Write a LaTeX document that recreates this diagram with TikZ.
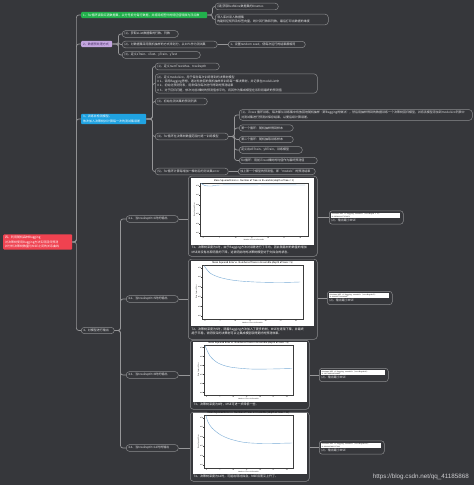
\documentclass[tikz,border=0pt]{standalone}
\usepackage{fontspec}
\setmainfont{Noto Sans CJK SC}
\newfontfamily\wmfont{Liberation Sans}
\usetikzlibrary{calc}

\definecolor{bgcol}{RGB}{54,55,59}
\definecolor{linecol}{RGB}{150,150,152}
\definecolor{boxcol}{RGB}{140,140,143}
\definecolor{txtcol}{RGB}{228,228,230}
\definecolor{greencol}{RGB}{34,177,76}
\definecolor{purplecol}{RGB}{196,166,224}
\definecolor{purpletxt}{RGB}{70,45,100}
\definecolor{bluecol}{RGB}{32,163,226}
\definecolor{redcol}{RGB}{240,66,80}
\definecolor{axiscol}{RGB}{60,60,60}
\definecolor{curvecol}{RGB}{120,172,214}
\definecolor{wmcol}{RGB}{205,205,208}

\newcommand{\mmfont}{\fontsize{3}{4.3}\selectfont}
\newcommand{\codefont}{\fontsize{1.9}{2.4}\selectfont\ttfamily}
\newcommand{\tickfont}{\fontsize{1.5}{1.8}\selectfont}
\newcommand{\titlefont}{\fontsize{2.4}{2.8}\selectfont}

% white code box inside the output nodes
\newcommand{\codeline}[3]{{\setlength{\fboxsep}{0.6bp}\colorbox{white}{\parbox{#3}{\codefont\color{black}#1\\#2}}}}

% one MSE plot: white area NW, SE, axes NW, SE, depth, curve points
\newcommand{\msepanel}[6]{%
  \fill[white] #1 rectangle #2;
  \coordinate (pa) at #3;
  \coordinate (pb) at #4;
  \draw[axiscol, line width=0.2pt] (pa) rectangle (pb);
  \node[plottxt, font=\titlefont, anchor=south] at ($(pa)!0.5!(pb |- pa)+(0,-0.4)$) {Mean Squared Error vs. Number of Trees in Ensemble (depth of trees = #5)};
  \foreach \tf/\tv in {0.03/0,0.18/5,0.33/10,0.48/15,0.63/20,0.78/25,0.93/30}
    \draw[axiscol, line width=0.2pt] ($(pa |- pb)!\tf!(pb)$) -- ++(0,0.8) node[plottxt, anchor=north] {\tv};
  \foreach \tf/\tv in {0.05/0.70,0.23/0.65,0.41/0.60,0.59/0.55,0.77/0.50,0.95/0.45}
    \draw[axiscol, line width=0.2pt] ($(pa)!\tf!(pa |- pb)$) -- ++(-0.8,0) node[plottxt, anchor=east] {\tv};
  \node[plottxt, anchor=north] at ($(pa |- pb)!0.5!(pb)+(0,2.6)$) {Number of Trees in Ensemble};
  \node[plottxt, rotate=90, anchor=south] at ($(pa)!0.5!(pa |- pb)+(-4.5,0)$) {Mean Squared Error};
  \draw[curvecol, line width=0.4pt] plot[smooth] coordinates {#6};
}

\tikzset{
  conn/.style={draw=linecol, line width=0.7pt, rounded corners=2.5bp},
  topic/.style={rounded corners=1bp, inner xsep=2bp, inner ysep=1.7bp, anchor=west, align=left, font=\mmfont, text=white},
  leaf/.style={draw=boxcol, line width=0.5pt, rounded corners=3bp, fill=bgcol, inner xsep=2bp, inner ysep=1.7bp, anchor=west, align=left, font=\mmfont, text=txtcol},
  outbox/.style={leaf, inner ysep=2.2bp},
  frame/.style={draw=boxcol, line width=0.5pt, rounded corners=3bp, fill=bgcol, anchor=north west, inner sep=0pt},
  caption/.style={anchor=north west, align=left, font=\mmfont, text=white, inner sep=0.5bp},
  plottxt/.style={text=black, font=\tickfont, inner sep=0.2bp},
}

\begin{document}
\begin{tikzpicture}[x=1bp,y=-1bp]
\fill[bgcol] (0,0) rectangle (474,485);
\useasboundingbox (0,0) rectangle (474,485);

% root and main branches
\node[topic, fill=redcol, inner ysep=2bp, text width=65bp] (root) at (3,242) {四、利用随机森林Bagging\\对决策树使用Bagging方法实现回归预测\\并分析决策树数量与MSE之间的关系曲线};
\node[topic, fill=greencol, text width=122bp] (b1) at (81,15) {1、for循环读取红酒数据集，以分号拆分每行数据，并将除标签外的特征值转换为浮点数};
\node[topic, fill=purplecol, text=purpletxt, text width=27bp] (b2) at (81,44) {2、数据预处理方式};
\node[topic, fill=bluecol, text width=61bp] (b3) at (81,119) {3、训练并检测模型。\\依次加入决策树并计算每一次的测试集误差};
\node[leaf, text width=29bp] (b4) at (81,330.5) {4、对模型进行输出};

% branch 1
\node[leaf, text width=59bp] (b1a) at (215,6.5) {(调)获取RedWine数据集的Xnames};
\node[leaf, text width=109bp] (b1b) at (215,19.5) {导入库并读入数据集\\构建特征矩阵及标签向量，统计其行数和列数，最后打印出数据的维度};

% branch 2
\node[leaf, text width=52bp] (b2a) at (122,34) {(1)、获取xList数据集的行数、列数};
\node[leaf, text width=91bp] (b2b) at (122,44.5) {(2)、对数据集采用随机抽样的方式来划分，以30\%作为测试集};
\node[leaf, text width=74bp] (b2c) at (122,55) {(3)、定义xTrain、xTest、yTrain、yTest};
\node[leaf, text width=73bp] (b2b1) at (228,44.5) {1、设置random seed，使每次运行的结果都相同};

% branch 3
\node[leaf, text width=60bp] (b3a) at (155,66.5) {(1)、定义numTreesMax、treeDepth};
\node[leaf, text width=158bp] (b3b) at (155,83.5) {(2)、定义modelList，用于保存每次训练得到的决策树模型\\\# 1、调用Bagging思想，通过有放回的随机抽样来训练每一棵决策树，并记录在modelList中\\\# 2、初始化预测列表，用来保存每次迭代得到的预测结果\\\# 3、对于回归问题，依次对前i棵树的预测值求平均，将其作为集成模型在该阶段最终的预测值};
\node[leaf, text width=48bp] (b3c) at (155,101.5) {(3)、初始化测试集的预测列表};
\node[leaf, text width=69bp] (b3d) at (155,136.5) {(4)、for循环在决策树数量范围内逐一训练模型};
\node[leaf, text width=69bp] (b3e) at (155,171.5) {(5)、for循环计算每增加一棵树后的测试集error};
\node[leaf, text width=229bp] (b3d1) at (239,115) {(1)、iTrees 循环训练，每次都从训练集中有放回地随机抽样（即Bagging的做法），然后用抽样得到的数据训练一个决策树回归模型，并将该模型添加到modelList列表中\\对测试集进行预测并保存结果，以便后续计算误差。};
\node[leaf, text width=50bp] (b3d2) at (239,128) {第一个循环：随机抽样得到样本};
\node[leaf, text width=50bp] (b3d3) at (239,139.5) {第二个循环：随机抽取训练样本};
\node[leaf, text width=59bp] (b3d4) at (239,150) {定义出xRTrain、yRTrain，训练模型};
\node[leaf, text width=74bp] (b3d5) at (239,160.5) {for循环：用前iTrees棵树的均值作为最终预测值};
\node[leaf, text width=73bp] (b3e1) at (238,171.5) {加上第一个模型的预测值，即“models”的预测结果};

% branch 4
\node[leaf, text width=48bp] (d1) at (126,219) {4.1、当treeDepth=1时的输出};
\node[leaf, text width=48bp] (d2) at (126,299) {4.2、当treeDepth=5时的输出};
\node[leaf, text width=48bp] (d3) at (126,375) {4.3、当treeDepth=8时的输出};
\node[leaf, text width=48bp] (d4) at (126,448) {4.4、当treeDepth=12时的输出};

\node[frame, minimum width=129bp, minimum height=80bp] (f1) at (188,176) {};
\node[frame, minimum width=129bp, minimum height=80bp] (f2) at (188,259) {};
\node[frame, minimum width=119bp, minimum height=69bp] (f3) at (190,340) {};
\node[frame, minimum width=119bp, minimum height=69bp] (f4) at (190,412) {};

\msepanel{(191,178)}{(314,245)}{(200,183)}{(308,236)}{1}{(201,183.2) (205,185.6) (212,186) (220,185) (260,184.8) (305,185)}
\msepanel{(191,261)}{(314,326)}{(202,265)}{(303,319)}{5}{(204,265.5) (210,273) (220,277.5) (235,280.5) (255,282) (280,282.5) (300,282)}
\msepanel{(193,342)}{(307,402)}{(204,345)}{(293,395)}{8}{(205,345.5) (210,356) (218,363) (230,367) (250,369) (270,369) (292,368.5)}
\msepanel{(193,413)}{(307,474)}{(204,415)}{(293,468)}{12}{(206,415.5) (208,422) (212,428) (220,434.5) (230,439) (245,442.5) (265,443.5) (292,443)}

\node[caption, text width=122bp] (cap1) at (191,245.5) {T1、决策树深度为1时，由于Bagging方法对误差进行了平均，因此随着树的数量的增加\\MSE并没有出现明显的下降，这说明此时的决策树模型处于欠拟合的状态。};
\node[caption, text width=122bp] (cap2) at (191,327) {T2、决策树深度为5时，随着Bagging方法加入了更多的树，MSE在逐渐下降，并最终\\趋于平稳，说明较深的决策树可以让集成模型取得更好的预测效果。};
\node[caption, text width=112bp] (cap3) at (193,402.5) {T3、决策树深度为8时，MSE可进一步降低一些。};
\node[caption, text width=112bp] (cap4) at (193,474.5) {T4、决策树深度为12时，可能出现过拟合，MSE反而又上升了。};

\node[outbox, text width=70bp] (o1) at (329,217.5) {\codeline{Minimum MSE of Bagging ensemble (treeDepth = 1):}{0.6950812137258451}{68bp}\\[0.5bp](2)、输出最小MSE};
\node[outbox, text width=61bp] (o2) at (327,298) {\codeline{Minimum MSE of Bagging ensemble (treeDepth=5):}{0.4283647512384107}{59bp}\\[0.5bp](2)、输出最小MSE};
\node[outbox, text width=65bp] (o3) at (319,375) {\codeline{Minimum MSE of Bagging ensemble (treeDepth=8):}{0.3937460118523046}{63bp}\\[0.5bp](2)、输出最小MSE};
\node[outbox, text width=61bp] (o4) at (319,447.5) {\codeline{Minimum MSE of Bagging ensemble (treeDepth=12):}{0.4016825903317482}{59bp}\\[0.5bp](2)、输出最小MSE};

% connectors
\foreach \c in {b1,b2,b3,b4} \draw[conn] (root.east) -- ++(4,0) |- (\c.west);
\foreach \c in {b1a,b1b} \draw[conn] (b1.east) -- ++(5,0) |- (\c.west);
\foreach \c in {b2a,b2b,b2c} \draw[conn] (b2.east) -- ++(6,0) |- (\c.west);
\draw[conn] (b2b.east) -- (b2b1.west);
\foreach \c in {b3a,b3b,b3c,b3d,b3e} \draw[conn] (b3.east) -- ++(6,0) |- (\c.west);
\foreach \c in {b3d1,b3d2,b3d3,b3d4,b3d5} \draw[conn] (b3d.east) -- ++(6,0) |- (\c.west);
\draw[conn] (b3e.east) -- (b3e1.west);
\foreach \c in {d1,d2,d3,d4} \draw[conn] (b4.east) -- ++(6,0) |- (\c.west);
\foreach \i in {1,...,4} {
  \draw[conn] (d\i.east) -- (d\i.east -| f\i.west);
  \draw[conn] (f\i.east |- o\i.west) -- (o\i.west);
}

\node[anchor=east, text=wmcol, font={\wmfont\fontsize{6.3}{7}\selectfont}, inner sep=0pt] (wm) at (469,477) {https://blog.csdn.net/qq\_41185868};
\end{tikzpicture}
\end{document}
